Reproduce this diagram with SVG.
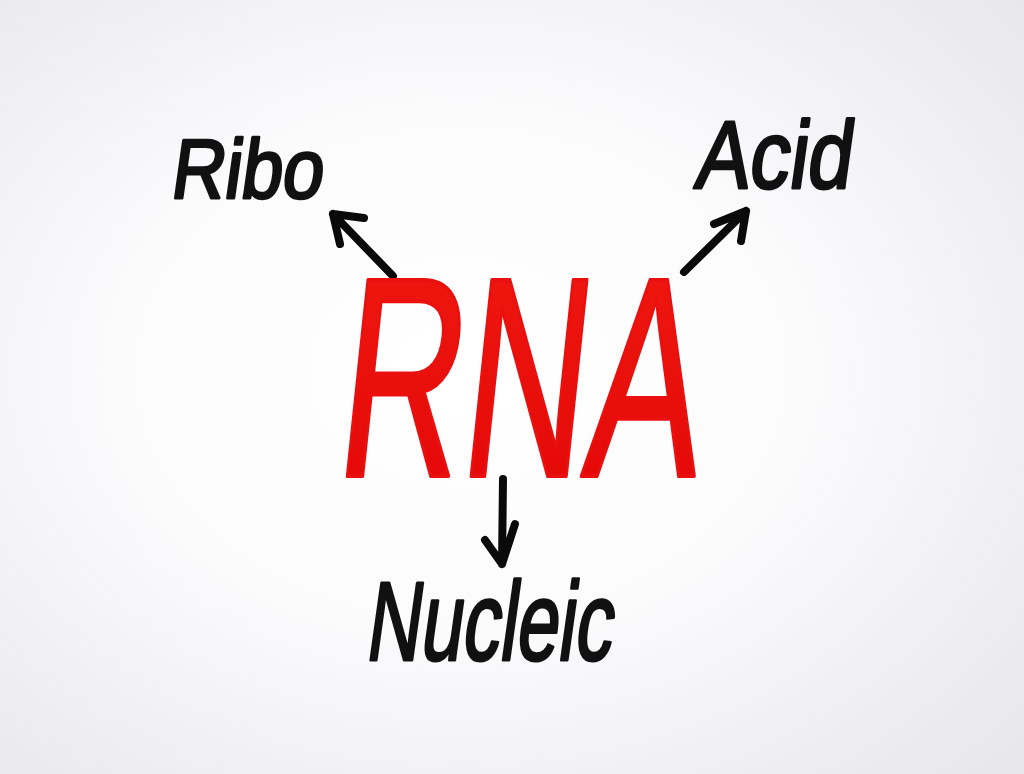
<svg xmlns="http://www.w3.org/2000/svg" width="1024" height="774" viewBox="0 0 1024 774">
<defs>
<radialGradient id="bg" cx="0.45" cy="0.48" r="0.75">
<stop offset="0" stop-color="#ffffff"/>
<stop offset="0.45" stop-color="#fbfbfc"/>
<stop offset="1" stop-color="#e6e6eb"/>
</radialGradient>
<linearGradient id="red" x1="0" y1="0" x2="0" y2="1">
<stop offset="0" stop-color="#f01a10"/>
<stop offset="1" stop-color="#e20606"/>
</linearGradient>
<style>
.w{font-family:"Liberation Sans","DejaVu Sans",sans-serif;font-weight:normal;fill:#111;stroke:#111;stroke-width:3;stroke-linejoin:round}
.a{fill:none;stroke:#0a0a0a;stroke-width:8;stroke-linecap:round;stroke-linejoin:round}
</style>
</defs>
<rect width="1024" height="774" fill="url(#bg)"/>
<g id="connectors">
<path class="a" d="M393 276 L333 214 M333 214 L364 218 M333 214 L340 244"/>
<path class="a" d="M684 272 L746 211 M746 211 L714 224 M746 211 L741 241"/>
<path class="a" d="M503 479 L502 564 M502 564 L485 540 M502 564 L515 524"/>
</g>
<g id="rna">
<text class="w" x="333" y="476" font-size="285" textLength="362" lengthAdjust="spacingAndGlyphs" style="fill:url(#red);stroke:#ea1010;stroke-width:4" transform="skewX(-6) translate(50 0)">RNA</text>
</g>
<g id="ribo">
<text class="w" x="172" y="198" font-size="84" textLength="152" lengthAdjust="spacingAndGlyphs" transform="skewX(-8) translate(25 0)">Ribo</text>
</g>
<g id="acid">
<text class="w" x="695" y="188" font-size="96" textLength="156" lengthAdjust="spacingAndGlyphs" transform="skewX(-8) translate(25 0)">Acid</text>
</g>
<g id="nucleic">
<text class="w" x="375" y="660" font-size="112" textLength="246" lengthAdjust="spacingAndGlyphs" transform="skewX(-8) translate(82 0)">Nucleic</text>
</g>
</svg>
